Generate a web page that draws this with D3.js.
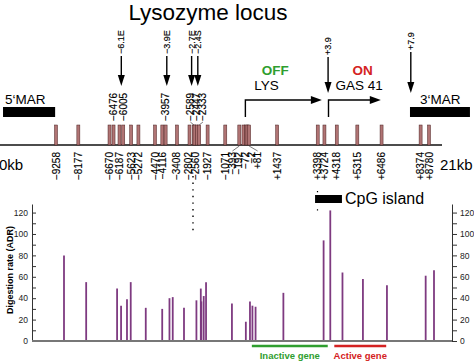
<!DOCTYPE html>
<html>
<head>
<meta charset="utf-8">
<style>
  body { margin: 0; background: #fff; }
  svg { display: block; font-family: Arial, "Liberation Sans", sans-serif; }
</style>
</head>
<body>
<svg width="474" height="361"></svg>
<script src="https://d3js.org/d3.v7.min.js"></script>
<script>
// restriction sites on the top map (bp, relative to LYS start)
const trackSites = [-9258, -8177, -6670, -6476, -6187, -6005, -5623, -5272, -4470, -4116, -3957,
  -3408, -2802, -2589, -2560, -2447, -2333, -1927, -1071, -393, -192, -72, -2, 81, 1437,
  3398, 3724, 4318, 5315, 6486, 8374, 8780]
// sites whose label sits above the map
const upperSites = [-6476, -6005, -3957, -2589, -2447, -2333]

// DNase hypersensitive sites
const dhsPos = [-6100, -3900, -2700, -2400, 3900, 7900]
const dhsLabels = ["\u22126.1E", "\u22123.9E", "\u22122.7E", "\u22122.4S", "+3.9", "+7.9"]

// genes, MARs, CpG island (bp)
const geneNames = ["LYS", "GAS 41"]
const geneState = ["OFF", "ON"]
const geneStart = [-100, 3920]
const geneEnd = [3600, 6450]
const marNames = ["5\u2018MAR", "3\u2018MAR"]
const marStart = [-11820, 7860]
const marEnd = [-9300, 10760]
const cpgRange = [3270, 4570]

// digestion rate per site
const adrSites = [-9258, -8177, -6670, -6476, -6187, -6005, -5272, -4470, -4116, -3957, -3408,
  -2802, -2589, -2560, -2447, -2333, -1071, -393, -192, -72, 81, 1437, 3398, 3724, 4318,
  5315, 6486, 8374, 8780]
const adrValues = [80, 55, 49, 33, 39, 55, 31, 30, 40, 41, 31,
  38, 49, 37, 42, 55, 35, 18, 37, 33, 32, 45, 94, 122, 64,
  58, 52, 61, 66]
const yTicks = [0, 10, 20, 30, 40, 50, 60, 70, 80, 90, 100, 110, 120]
const yTickLabels = [0, 20, 40, 60, 80, 100, 120]

const svg = d3.select("svg")
const green = "#2f9e2f", red = "#d42222", purple = "#7e3a80"

let fmt = d => (d > 0 ? "+" : "\u2212") + Math.abs(d)

// top map scale
let xTop = d3.scaleLinear().domain([-9258, 8780]).range([56, 429])
// bottom chart scale
let xBot = d3.scaleLinear().domain([-9258, 8780]).range([64, 434])
let y = d3.scaleLinear().domain([0, 128]).range([341, 204])

// spread labels so they don't overlap, centring each crowded group
function spread(xs, gap) {
  let groups = xs.map(x => ({ xs: [x], c: x }))
  let merged = true
  while (merged) {
    merged = false
    for (let i = 0; i < groups.length - 1; i++) {
      let a = groups[i], b = groups[i + 1]
      let aEnd = a.c + (a.xs.length - 1) * gap / 2
      let bStart = b.c - (b.xs.length - 1) * gap / 2
      if (bStart - aEnd < gap) {
        let all = a.xs.concat(b.xs)
        groups.splice(i, 2, { xs: all, c: d3.mean(all) })
        merged = true
        break
      }
    }
  }
  return groups.flatMap(g => g.xs.map((x, k) => g.c + (k - (g.xs.length - 1) / 2) * gap))
}

// title
svg.append("text")
  .attr("x", 208).attr("y", 20)
  .attr("text-anchor", "middle")
  .style("font-size", "22.5px")
  .text("Lysozyme locus")

// baseline of the map
svg.append("line")
  .attr("x1", 0).attr("x2", 442).attr("y1", 145).attr("y2", 145)
  .style("stroke", "#111").style("stroke-width", 1.5)

svg.append("text").attr("x", -1).attr("y", 170).style("font-size", "15px").text("0kb")
svg.append("text").attr("x", 440).attr("y", 170).style("font-size", "15px").text("21kb")

// MARs
svg.selectAll(".mar")
  .data(marNames)
  .join("rect")
  .attr("class", "mar")
  .attr("x", (d, i) => xTop(marStart[i]))
  .attr("width", (d, i) => xTop(marEnd[i]) - xTop(marStart[i]))
  .attr("y", 107).attr("height", 10)
  .style("fill", "#000")

svg.selectAll(".marlabel")
  .data(marNames)
  .join("text")
  .attr("class", "marlabel")
  .attr("x", (d, i) => xTop(marStart[i]) + (i == 0 ? 2 : 10))
  .attr("y", 104)
  .style("font-size", "13.5px")
  .text(d => d)

// site markers
svg.selectAll(".site")
  .data(trackSites)
  .join("rect")
  .attr("class", "site")
  .attr("x", d => xTop(d) - 1.5)
  .attr("y", 125).attr("width", 3).attr("height", 20)
  .style("fill", "#b07474")
  .style("stroke", "#4a2020")
  .style("stroke-width", 0.5)

// site labels, below and above
let lower = trackSites.filter(d => !upperSites.includes(d))
let lowerX = spread(lower.map(d => xTop(d)), 6.3)
let upperX = spread(upperSites.map(d => xTop(d)), 6.3)

lower.forEach((d, i) => {
  let lx = lowerX[i]
  if (Math.abs(lx - xTop(d)) > 5) {
    svg.append("line")
      .attr("x1", xTop(d)).attr("y1", 146).attr("x2", lx).attr("y2", 151)
      .style("stroke", "#222").style("stroke-width", 0.6)
  }
  svg.append("text")
    .attr("transform", `translate(${lx},152) rotate(-90)`)
    .attr("text-anchor", "end")
    .attr("dy", "0.35em")
    .style("font-size", "10px")
    .style("stroke", "#000").style("stroke-width", 0.15)
    .text(fmt(d))
})

upperSites.forEach((d, i) => {
  let lx = upperX[i]
  if (Math.abs(lx - xTop(d)) > 3) {
    svg.append("path")
      .attr("d", `M${xTop(d)},125L${lx},122`)
      .style("fill", "none")
      .style("stroke", "#222").style("stroke-width", 0.6)
  }
  svg.append("text")
    .attr("transform", `translate(${lx},121) rotate(-90)`)
    .attr("text-anchor", "start")
    .attr("dy", "0.35em")
    .style("font-size", "10px")
    .style("stroke", "#000").style("stroke-width", 0.15)
    .text(fmt(d))
})

// DHS arrows
dhsPos.forEach((d, i) => {
  let ax = xTop(d)
  let top = d < 0 ? 54 : (d > 5000 ? 50 : 55)
  let tip = d < 0 ? 86 : 93
  svg.append("text")
    .attr("transform", `translate(${ax},${top}) rotate(-90)`)
    .attr("dy", "0.35em")
    .style("font-size", "9px")
    .style("stroke", "#000").style("stroke-width", 0.15)
    .text(dhsLabels[i])
  svg.append("line")
    .attr("x1", ax).attr("x2", ax).attr("y1", top + 2).attr("y2", tip - 6)
    .style("stroke", "#000").style("stroke-width", 1.4)
  svg.append("path")
    .attr("d", `M${ax - 3.5},${tip - 11}L${ax + 3.5},${tip - 11}L${ax},${tip}Z`)
    .style("fill", "#000")
})

// promoter arrows with gene names
geneNames.forEach((g, i) => {
  let x0 = xTop(geneStart[i]), x1 = xTop(geneEnd[i])
  svg.append("path")
    .attr("d", `M${x0},117V100H${x1 - 8}`)
    .style("fill", "none").style("stroke", "#000").style("stroke-width", 1.4)
  svg.append("path")
    .attr("d", `M${x1 - 11},96L${x1},100L${x1 - 11},104Z`)
    .style("fill", "#000")
  svg.append("text")
    .attr("x", x0 + (i == 0 ? 9 : 7)).attr("y", 90)
    .style("font-size", "13.5px")
    .text(g)
  svg.append("text")
    .attr("x", x0 + (i == 0 ? 30 : 34)).attr("y", 75)
    .attr("text-anchor", "middle")
    .style("font-size", "13.5px").style("font-weight", "bold")
    .style("fill", i == 0 ? green : red)
    .text(geneState[i])
})

// CpG island
svg.append("rect")
  .attr("x", xTop(cpgRange[0])).attr("width", xTop(cpgRange[1]) - xTop(cpgRange[0]))
  .attr("y", 195).attr("height", 8)
  .style("fill", "#000")
svg.append("text")
  .attr("x", xTop(cpgRange[1]) + 3).attr("y", 204)
  .style("font-size", "16px")
  .text("CpG island")

// dotted guides
svg.append("line")
  .attr("x1", 193).attr("x2", 193).attr("y1", 176).attr("y2", 232)
  .style("stroke", "#000").style("stroke-width", 1.4)
  .style("stroke-dasharray", "1.4,5.2")
svg.append("line")
  .attr("x1", 317.5).attr("x2", 317.5).attr("y1", 191).attr("y2", 212)
  .style("stroke", "#000").style("stroke-width", 1.2)
  .style("stroke-dasharray", "1.2,17")

// bottom chart axes
let leftAxis = d3.axisLeft(y)
  .tickValues(yTicks)
  .tickSizeInner(-4).tickSizeOuter(0).tickPadding(4)
  .tickFormat(d => yTickLabels.includes(d) ? d : "")
let rightAxis = d3.axisRight(y)
  .tickValues(yTicks)
  .tickSizeInner(5).tickSizeOuter(0).tickPadding(3)
  .tickFormat(d => yTickLabels.includes(d) ? d : "")

let gl = svg.append("g").attr("transform", "translate(32,0)").call(leftAxis)
let gr = svg.append("g").attr("transform", "translate(452,0)").call(rightAxis)
for (let g of [gl, gr]) {
  g.select(".domain").style("stroke", "#333")
  g.selectAll(".tick line").style("stroke", "#333")
  g.selectAll(".tick text").style("font-size", "8.5px").style("font-family", "Arial, 'Liberation Sans', sans-serif").style("fill", "#222")
}

svg.append("text")
  .attr("transform", "translate(13,270) rotate(-90)")
  .attr("text-anchor", "middle")
  .style("font-size", "9px").style("font-weight", "bold")
  .text("Digestion rate (ADR)")

// bars
svg.selectAll(".adr")
  .data(adrValues)
  .join("line")
  .attr("class", "adr")
  .attr("x1", (d, i) => xBot(adrSites[i]))
  .attr("x2", (d, i) => xBot(adrSites[i]))
  .attr("y1", y(0))
  .attr("y2", d => y(d))
  .style("stroke", purple)
  .style("stroke-width", 1.8)

// x baseline
svg.append("line")
  .attr("x1", 32).attr("x2", 452).attr("y1", y(0)).attr("y2", y(0))
  .style("stroke", "#777").style("stroke-width", 2)

// gene extents below
let geneLabels = ["Inactive gene", "Active gene"]
geneNames.forEach((g, i) => {
  let x0 = xBot(geneStart[i]), x1 = xBot(geneEnd[i])
  let col = i == 0 ? green : red
  svg.append("line")
    .attr("x1", x0).attr("x2", x1).attr("y1", 346).attr("y2", 346)
    .style("stroke", col).style("stroke-width", 2.6)
  svg.append("text")
    .attr("x", (x0 + x1) / 2).attr("y", 358.5)
    .attr("text-anchor", "middle")
    .style("font-size", "9.5px").style("font-weight", "bold")
    .style("fill", col)
    .text(geneLabels[i])
})
</script>
</body>
</html>
